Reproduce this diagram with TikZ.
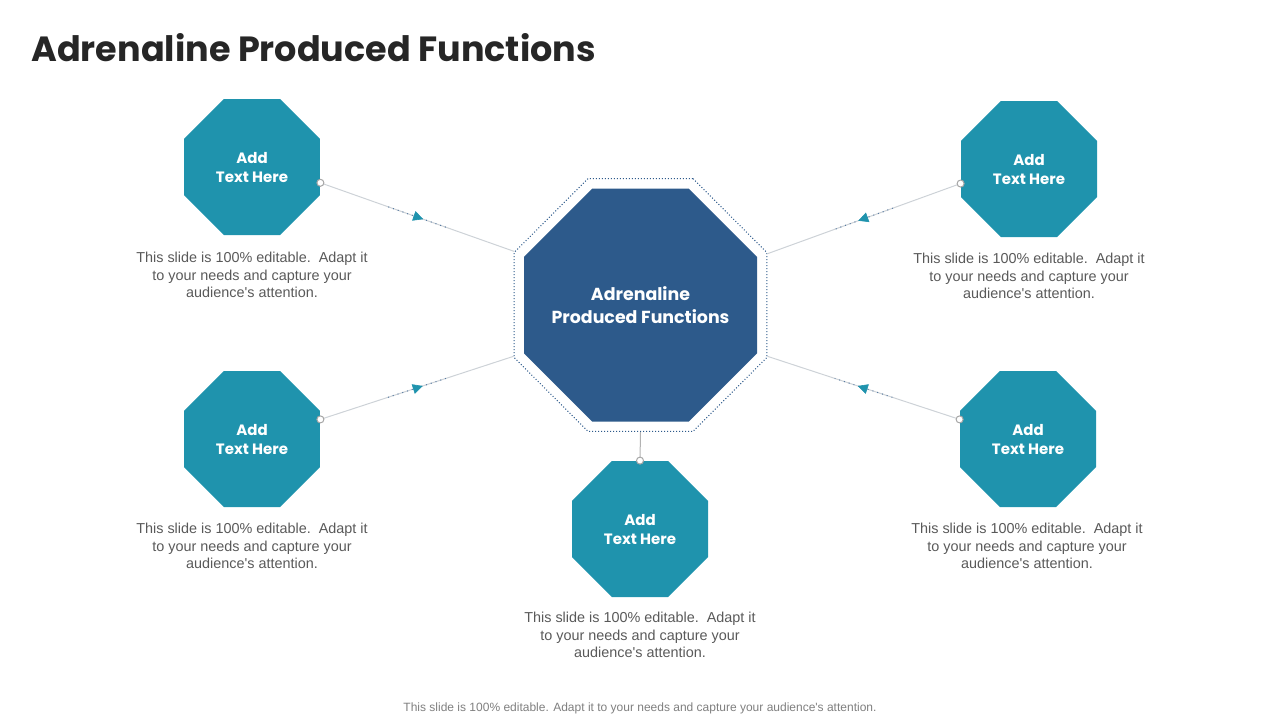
\documentclass[tikz,border=0pt]{standalone}
\usepackage{fontspec}
\setmainfont{Liberation Sans}
\newfontfamily\descfont{Liberation Sans}
\newfontfamily\pop{Poppins}
\usetikzlibrary{shapes.geometric,arrows.meta,calc}
\definecolor{tealA}{HTML}{1F93AD}
\definecolor{navyA}{HTML}{2D5A8B}
\definecolor{descA}{HTML}{595959}
\definecolor{footA}{HTML}{7F7F7F}
\definecolor{connA}{HTML}{CDD2D7}
\newcommand{\desctext}{This slide is 100\% editable.\ \ Adapt it\\to your needs and capture your\\audience's attention.}
\newcommand{\linkarrow}[2]{%
  \draw[connline] (#1) -- (#2);
  \draw[connmid] ($(#1)!0.35!(#2)$) -- ($(#1)!0.65!(#2)$);
  \draw[connarrow] ($(#1)!0.49!(#2)$) -- ($(#1)!0.53!(#2)$);
  \draw[enddot] (#1) circle (3.5);
}
\begin{document}
\begin{tikzpicture}[x=0.5pt,y=-0.5pt,
  smalloct/.style={regular polygon, regular polygon sides=8, minimum size=73.6pt,
    inner sep=0pt, fill=tealA, text=white, align=center,
    font=\pop\bfseries\fontsize{7.5}{9.5}\selectfont},
  bigoct/.style={regular polygon, regular polygon sides=8, minimum size=126.1pt,
    inner sep=0pt, fill=navyA},
  bigtext/.style={text=white, align=center, inner sep=0pt,
    font=\pop\bfseries\fontsize{8.7}{11.5}\selectfont},
  outeroct/.style={regular polygon, regular polygon sides=8, minimum size=136.9pt,
    inner sep=0pt, draw=navyA, densely dotted, line width=0.5pt},
  desc/.style={text=descA, align=center, font=\descfont\fontsize{7.2}{8.75}\selectfont},
  connline/.style={draw=connA, line width=0.5pt},
  connmid/.style={draw=navyA!80, dotted, line width=0.5pt},
  connarrow/.style={draw=tealA, -{Triangle[length=5pt,width=5pt]}, fill=tealA, line width=0.3pt},
  enddot/.style={draw=gray!70, fill=white, line width=0.5pt},
]
\useasboundingbox (0,0) rectangle (1280,720);

\node[anchor=base west, inner sep=0pt, text=black!85, font=\pop\bfseries\fontsize{17.5}{20}\selectfont] (title) at (31,61) {Adrenaline Produced Functions};

\node[outeroct] (outer) at (640.5,305) {};
\node[bigoct] (center) at (640.5,305) {};
\node[bigtext] (centertext) at (640.5,305) {Adrenaline\\Produced Functions};

\node[smalloct] (tl) at (252,167) {Add\\Text Here};
\node[smalloct] (tr) at (1029,169) {Add\\Text Here};
\node[smalloct] (bl) at (252,439) {Add\\Text Here};
\node[smalloct] (br) at (1028,439) {Add\\Text Here};
\node[smalloct] (bm) at (640,529) {Add\\Text Here};

\node[desc] (dtl) at (252,275) {\desctext};
\node[desc] (dtr) at (1029,276) {\desctext};
\node[desc] (dbl) at (252,546) {\desctext};
\node[desc] (dbr) at (1027,546) {\desctext};
\node[desc] (dbm) at (640,635) {\desctext};

\node[text=footA, font=\descfont\fontsize{6}{7}\selectfont] (foot) at (640,708) {This slide is 100\% editable. Adapt it to your needs and capture your audience's attention.};

\linkarrow{tl.-13}{outer.157.5}
\linkarrow{tr.192}{outer.22.5}
\linkarrow{bl.16}{outer.202.5}
\linkarrow{br.164}{outer.-22.5}
\draw[draw=gray!60, line width=0.5pt] (outer.south) -- (bm.north);
\draw[enddot] (bm.north) circle (3.5);
\end{tikzpicture}
\end{document}
